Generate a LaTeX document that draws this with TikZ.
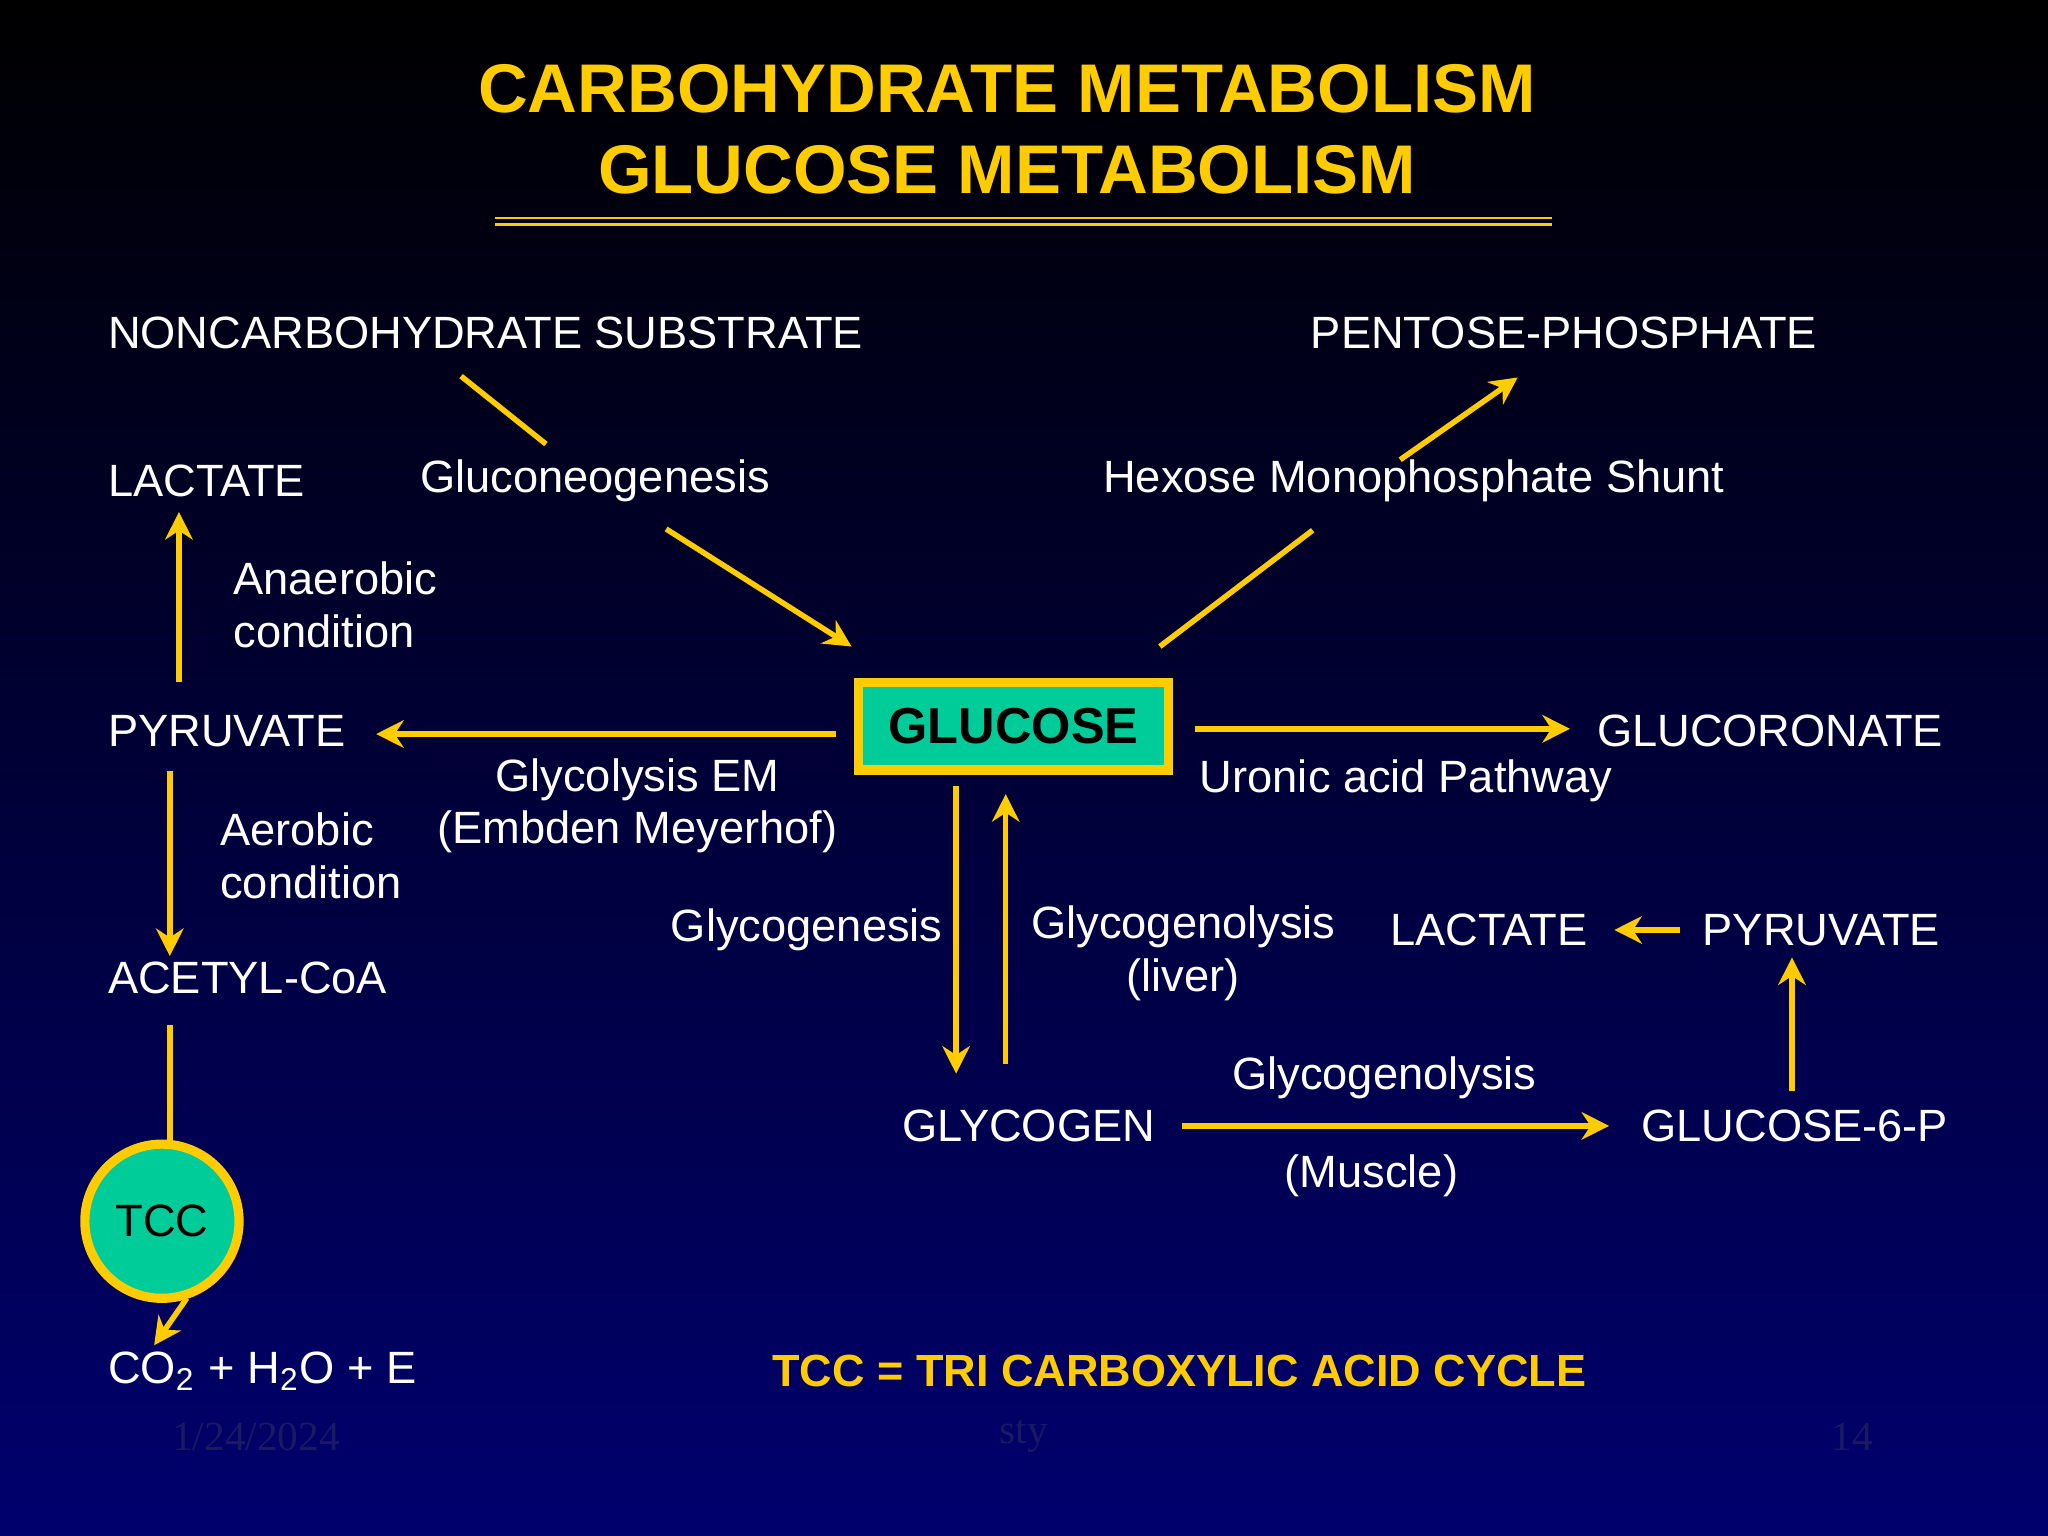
\documentclass[tikz,border=0pt]{standalone}
\usepackage{fontspec}
\setmainfont{Liberation Sans}
\newfontfamily\footfont{Liberation Serif}
\usetikzlibrary{arrows.meta}
\definecolor{gold}{RGB}{255,204,0}
\definecolor{teal2}{RGB}{0,204,153}
\definecolor{navy}{RGB}{0,0,110}
\definecolor{footc}{RGB}{25,25,100}
\begin{document}
\begin{tikzpicture}[x=0.01cm,y=-0.01cm,
  lbl/.style={text=white,font=\fontsize{9.85pt}{11.5pt}\selectfont,inner sep=0pt},
  lw/.style={lbl,anchor=west},
  ttl/.style={text=gold,font=\bfseries\fontsize{15pt}{17pt}\selectfont},
  arr/.style={gold,line width=1.2pt,-{Stealth[length=6pt,width=6pt]}},
  ln/.style={gold,line width=1.2pt},
  foot/.style={text=footc,font=\footfont\fontsize{9pt}{10pt}\selectfont}]
\shade[top color=black,bottom color=navy] (0,0) rectangle (1568,1176);
\useasboundingbox (0,0) rectangle (1568,1176);
\node[ttl] (t1) at (771,68) {CARBOHYDRATE METABOLISM};
\node[ttl] (t2) at (771,130) {GLUCOSE METABOLISM};
\draw[gold,line width=0.6pt] (379,167) -- (1188,167) (379,172) -- (1188,172);

\node[lw] (ncs) at (82,255) {NONCARBOHYDRATE SUBSTRATE};
\node[lw] (pp) at (1003,255) {PENTOSE-PHOSPHATE};
\node[lw] (lac1) at (82,368) {LACTATE};
\node[lw] (gng) at (321,368) {Gluconeogenesis};
\node[lw] (hms) at (844,368) {Hexose Monophosphate Shunt};
\node[lw,align=left] (ana) at (178,463) {Anaerobic\\condition};
\node[lw] (pyr1) at (82,560) {PYRUVATE};
\node[draw=gold,line width=2pt,fill=teal2,minimum width=2.37cm,minimum height=0.67cm,font=\bfseries\fontsize{11pt}{12pt}\selectfont] (glu) at (776,556) {GLUCOSE};
\node[lw] (gcr) at (1222,560) {GLUCORONATE};
\node[lw] (uap) at (918,598) {Uronic acid Pathway};
\node[lbl,align=center] (gly) at (488,617) {Glycolysis EM\\(Embden Meyerhof)};
\node[lw,align=left] (aer) at (168,655) {Aerobic\\condition};
\node[lw] (ggs) at (513,712) {Glycogenesis};
\node[lbl,align=center] (ggl) at (906,730) {Glycogenolysis\\(liver)};
\node[lw] (lac2) at (1064,712) {LACTATE};
\node[lw] (pyr2) at (1303,712) {PYRUVATE};
\node[lw] (acc) at (82,749) {ACETYL-CoA};
\node[lbl] (ggm) at (1060,825) {Glycogenolysis};
\node[lw] (gcg) at (690,862) {GLYCOGEN};
\node[lw] (g6p) at (1256,862) {GLUCOSE-6-P};
\node[lbl] (mus) at (1050,900) {(Muscle)};
\node[circle,draw=gold,line width=2pt,fill=teal2,minimum size=1.18cm,font=\fontsize{9.85pt}{11pt}\selectfont] (tcc) at (124,935) {TCC};
\node[lw] (co2) at (82,1050) {CO\textsubscript{2} + H\textsubscript{2}O + E};
\node[text=gold,font=\bfseries\fontsize{9.8pt}{11pt}\selectfont] (def) at (903,1050) {TCC = TRI CARBOXYLIC ACID CYCLE};
\node[foot] (f1) at (196,1100) {1/24/2024};
\node[foot] (f2) at (784,1100) {sty};
\node[foot] (f3) at (1418,1100) {14};

\draw[ln] (353,288) -- (418,340);
\draw[arr] (510,405) -- (652,495);
\draw[ln] (888,495) -- (1005,406);
\draw[arr] (1072,352) -- (1162,289);
\draw[arr] (137,522) -- (137,392);
\draw[arr] (640,562) -- (288,562);
\draw[arr] (915,558) -- (1202,558);
\draw[arr] (130,590) -- (130,732);
\draw[ln] (130,785) -- (130,877);
\draw[arr] (143,994) -- (118,1030);
\draw[arr] (732,602) -- (732,822);
\draw[arr] (770,815) -- (770,608);
\draw[arr] (905,862) -- (1232,862);
\draw[arr] (1372,835) -- (1372,733);
\draw[arr] (1286,712) -- (1236,712);
\end{tikzpicture}
\end{document}
